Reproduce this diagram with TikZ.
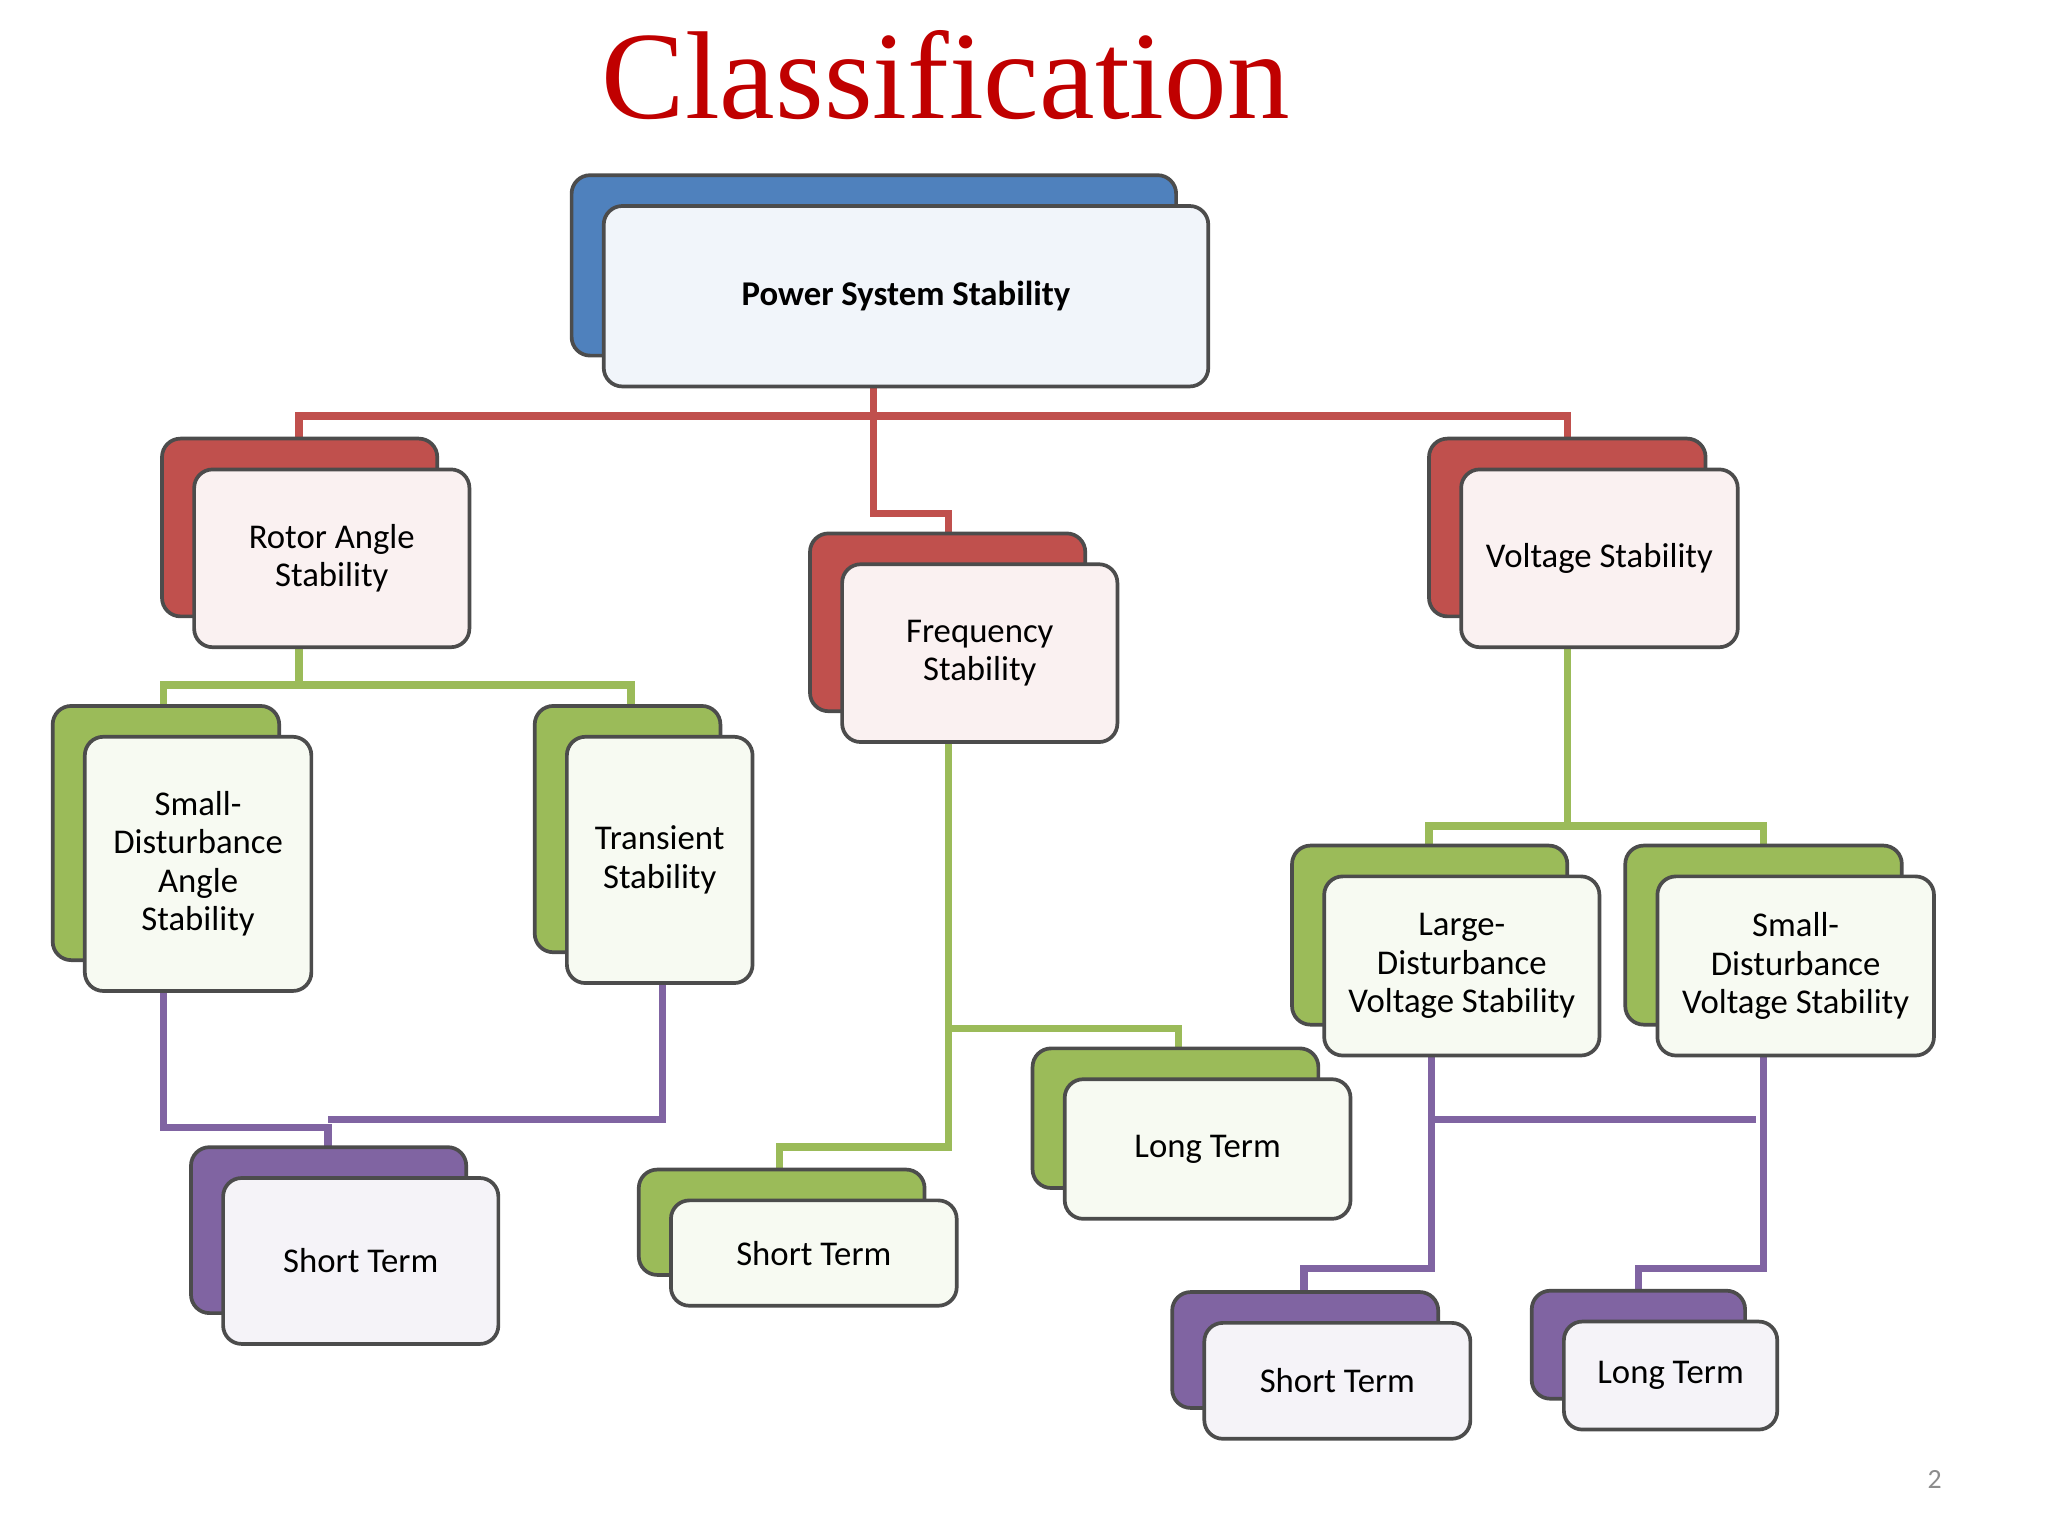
\documentclass[tikz,border=0pt]{standalone}
\usepackage{fontspec}
\setmainfont{Carlito}
\newfontfamily\titlefont{Liberation Serif}
\usetikzlibrary{calc}
\definecolor{pssblue}{HTML}{4F81BD}
\definecolor{pssred}{HTML}{C0504D}
\definecolor{pssgreen}{HTML}{9BBB59}
\definecolor{psspurple}{HTML}{8064A2}
\definecolor{titlered}{HTML}{C00000}

% stacked box: name, colour, left, top, width, height, text
\newcommand\tierbox[7]{%
  \draw[rounded corners=4pt,fill=#2,draw=black!70,line width=0.8pt]
    (#3-23,#4-22) rectangle (#3+#5-23,#4+#6-22);
  \node[box,fill=#2!8,minimum width=#5*0.01cm,minimum height=#6*0.01cm]
    (#1) at (#3,#4) {#7};
}

\begin{document}
\begin{tikzpicture}[x=0.01cm,y=-0.01cm,
  box/.style={draw=black!70,line width=0.8pt,rounded corners=4pt,anchor=north west,
    align=center,font=\fontsize{7.5}{8.3}\selectfont,inner sep=1pt},
  link/.style={line width=1.6pt}]
    \useasboundingbox (0,0) rectangle (1555,1166);
    \node[font=\titlefont\fontsize{27}{30}\selectfont,text=titlered] (title) at (718,57) {Classification};
    \node[font=\fontsize{6}{6}\selectfont,text=black!45] (page) at (1469,1123) {2};

    % connectors
    \draw[link,pssred] (663,292) -- (663,316) coordinate (rj);
    \draw[link,pssred] (227,333) |- (1190,316) -- (1190,333);
    \draw[link,pssred] (rj) -- (663,390) -| (720,405);
    \draw[link,pssgreen] (227,490) -- (227,520) coordinate (gj);
    \draw[link,pssgreen] (124,537) |- (479,520) -- (479,537);
    \draw[link,pssgreen] (720,562) -- (720,871) -| (592,888);
    \draw[link,pssgreen] (720,781) -| (895,797);
    \draw[link,pssgreen] (1190,490) -- (1190,627);
    \draw[link,pssgreen] (1085,644) |- (1339,627) -- (1339,644);
    \draw[link,psspurple] (124,751) |- (249,856) -- (249,871);
    \draw[link,psspurple] (503,745) |- (249,850);
    \draw[link,psspurple] (1087,800) |- (990,963) -- (990,980);
    \draw[link,psspurple] (1087,850) -- (1333,850);
    \draw[link,psspurple] (1339,800) |- (1244,963) -- (1244,980);

    % boxes
    \tierbox{pss}{pssblue}{457}{155}{459}{137}{\textbf{Power System Stability}}
    \tierbox{rotor}{pssred}{146}{355}{209}{135}{Rotor Angle\\Stability}
    \tierbox{freq}{pssred}{638}{427}{209}{135}{Frequency\\Stability}
    \tierbox{volt}{pssred}{1108}{355}{210}{135}{Voltage Stability}
    \tierbox{sda}{pssgreen}{63}{558}{172}{193}{Small-\\Disturbance\\Angle\\Stability}
    \tierbox{trans}{pssgreen}{429}{558}{141}{187}{Transient\\Stability}
    \tierbox{ldv}{pssgreen}{1004}{664}{209}{136}{Large-\\Disturbance\\Voltage Stability}
    \tierbox{sdv}{pssgreen}{1257}{664}{210}{136}{Small-\\Disturbance\\Voltage Stability}
    \tierbox{flong}{pssgreen}{807}{818}{217}{106}{Long Term}
    \tierbox{fshort}{pssgreen}{508}{910}{217}{80}{Short Term}
    \tierbox{ashort}{psspurple}{168}{893}{209}{126}{Short Term}
    \tierbox{vshort}{psspurple}{913}{1003}{202}{88}{Short Term}
    \tierbox{vlong}{psspurple}{1186}{1002}{162}{82}{Long Term}
\end{tikzpicture}
\end{document}
